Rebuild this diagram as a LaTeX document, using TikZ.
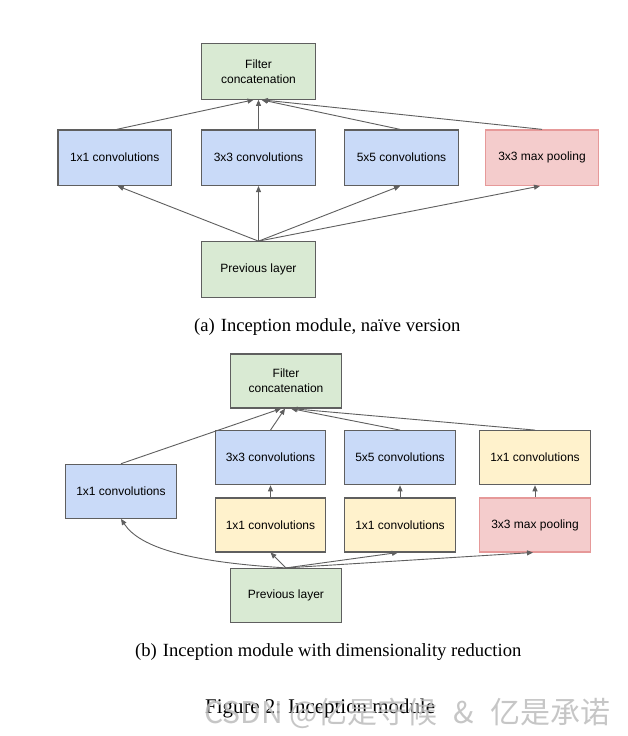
\documentclass[tikz,border=0pt]{standalone}
\usepackage{fontspec}
\setmainfont{Liberation Serif}
\newfontfamily\boxfont{Liberation Sans}
\newfontfamily\cjkfont{Noto Sans CJK SC}
\usetikzlibrary{arrows.meta}
\definecolor{cblue}{HTML}{C9DAF8}
\definecolor{cgreen}{HTML}{D9EAD3}
\definecolor{cyellow}{HTML}{FFF2CC}
\definecolor{cred}{HTML}{F4CCCC}
\definecolor{credline}{HTML}{E69999}
\definecolor{cline}{HTML}{5F5F5F}
\definecolor{cwm}{HTML}{BDBDBD}
\tikzset{
  box/.style={draw=cline, line width=1.2pt, inner sep=0pt, align=center,
    font=\boxfont\fontsize{12}{15}\selectfont},
  boxa/.style={box, minimum width=113.5pt, minimum height=55.5pt},
  boxb/.style={box, minimum width=110.5pt, minimum height=54pt},
  redbox/.style={draw=credline, fill=cred},
  arr/.style={draw=cline, line width=0.9pt, -{Triangle[length=6pt,width=5pt]}},
  captext/.style={anchor=base west, inner sep=0pt, font=\fontsize{18.6}{22}\selectfont},
}
\begin{document}
\begin{tikzpicture}[x=1pt,y=-1pt]
\path[use as bounding box, fill=white] (0,0) rectangle (628,736);

% ---------- panel (a)
\node[boxa, fill=cgreen] (fa) at (258.5,71.5) {Filter\\concatenation};
\node[boxa, fill=cblue] (c1a) at (114.7,157.7) {1x1 convolutions};
\node[boxa, fill=cblue] (c3a) at (258.5,157.7) {3x3 convolutions};
\node[boxa, fill=cblue] (c5a) at (401.5,157.7) {5x5 convolutions};
\node[boxa, redbox] (mpa) at (542,157.7) {3x3 max pooling};
\node[boxa, fill=cgreen] (pa) at (258.5,269.5) {Previous layer};

\draw[arr] ([xshift=2pt]c1a.north) -- ([xshift=-5pt]fa.south);
\draw[arr] (c3a.north) -- (fa.south);
\draw[arr] ([xshift=-1.5pt]c5a.north) -- ([xshift=3pt]fa.south);
\draw[arr] (mpa.north) -- ([xshift=3.5pt]fa.south);
\draw[arr] (pa.north) -- ([xshift=3pt]c1a.south);
\draw[arr] (pa.north) -- (c3a.south);
\draw[arr] (pa.north) -- ([xshift=-1.5pt]c5a.south);
\draw[arr] (pa.north) -- ([xshift=-2pt]mpa.south);

\node[captext] (capa) at (194,331.7) {(a)\hspace{6pt}Inception module, naïve version};

% ---------- panel (b)
\node[boxb, fill=cgreen] (fb) at (286,381) {Filter\\concatenation};
\node[boxb, fill=cblue] (l1b) at (121,491.3) {1x1 convolutions};
\node[boxb, fill=cblue] (b3) at (270.5,457.7) {3x3 convolutions};
\node[boxb, fill=cyellow] (y1a) at (270.5,524.9) {1x1 convolutions};
\node[boxb, fill=cblue] (b5) at (400,457.7) {5x5 convolutions};
\node[boxb, fill=cyellow] (y1b) at (400,524.9) {1x1 convolutions};
\node[boxb, fill=cyellow] (y1c) at (535,457.7) {1x1 convolutions};
\node[boxb, redbox] (mpb) at (535,524.9) {3x3 max pooling};
\node[boxb, fill=cgreen] (pb) at (286,595.5) {Previous layer};

\draw[arr] (l1b.north) -- ([xshift=-5pt]fb.south);
\draw[arr] (b3.north) -- ([xshift=-1pt]fb.south);
\draw[arr] (b5.north) -- ([xshift=5pt]fb.south);
\draw[arr] (y1c.north) -- ([xshift=5.5pt]fb.south);
\draw[arr] (y1a.north) -- (b3.south);
\draw[arr] (y1b.north) -- (b5.south);
\draw[arr] (mpb.north) -- (y1c.south);
\draw[arr] (pb.north) .. controls (190,562) and (140,548) .. (l1b.south);
\draw[arr] (pb.north) -- (y1a.south);
\draw[arr] (pb.north) -- ([xshift=-2pt]y1b.south);
\draw[arr] (pb.north) -- ([xshift=-2pt]mpb.south);

\node[captext] (capb) at (135,656) {(b)\hspace{6pt}Inception module with dimensionality reduction};

% ---------- figure caption and watermark
\node[captext, font=\fontsize{20.9}{24}\selectfont] (figcap) at (205,713) {Figure 2: Inception module};
\node[anchor=base west, inner sep=0pt, text=cwm, opacity=0.85,
  font=\cjkfont\fontsize{30}{34}\selectfont] (wm) at (204,723)
  {CSDN @亿是守候\hspace{16pt}\&\hspace{16pt}亿是承诺};
\end{tikzpicture}
\end{document}
